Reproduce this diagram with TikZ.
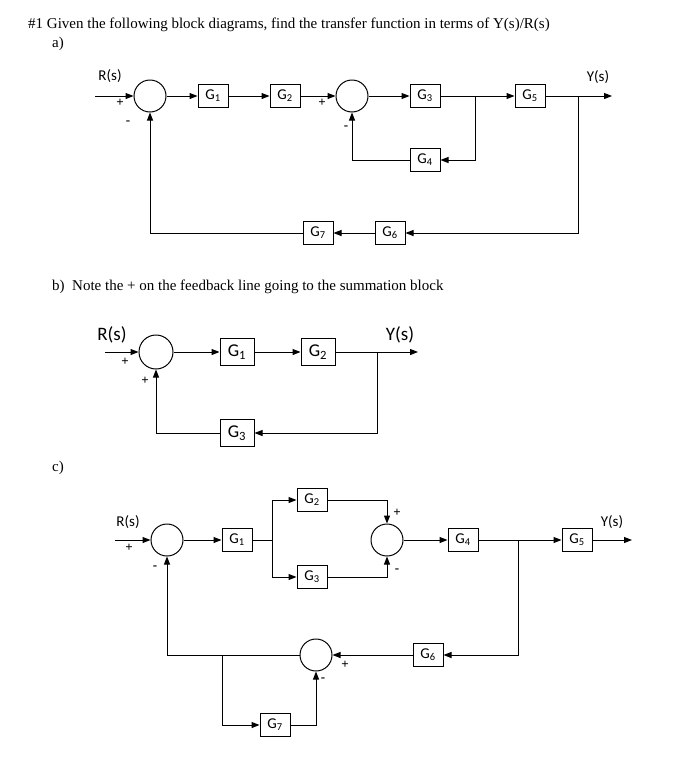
\documentclass[tikz,border=0pt]{standalone}
\usepackage{fontspec}
\setmainfont{Liberation Serif}
\newfontfamily\carl{Carlito}
\usetikzlibrary{arrows.meta}
\newcommand{\Gs}[1]{G\textsubscript{#1}}
\begin{document}
\begin{tikzpicture}[x=1pt,y=-1pt,
 blk/.style={draw,line width=1pt,minimum width=30pt,minimum height=23pt,inner sep=1pt,font=\carl\fontsize{15}{15}\selectfont},
 bblk/.style={blk,minimum width=34pt,minimum height=27pt,font=\carl\fontsize{18}{18}\selectfont},
 sm/.style={draw,circle,line width=1pt,minimum size=#1,inner sep=0pt},
 ln/.style={line width=1pt},
 ar/.style={ln,-{Triangle[length=8pt,width=6pt]}},
 lab/.style={font=\carl\fontsize{15}{15}\selectfont},
 blab/.style={font=\carl\fontsize{19}{19}\selectfont},
 sg/.style={font=\bfseries\fontsize{13}{13}\selectfont,inner sep=0pt},
 txt/.style={font=\fontsize{15}{15}\selectfont,anchor=west,inner sep=0pt}]
\useasboundingbox (0,0) rectangle (686,769);
\node[txt] (t) at (28,25) {\#1 Given the following block diagrams, find the transfer function in terms of Y(s)/R(s)};
\node[txt] (ta) at (52,44) {a)};
% a
\coordinate (ain) at (95,96);
\node[sm=32pt] (s1) at (150,96) {};
\node[blk] (g1) at (213,96) {\Gs{1}};
\node[blk] (g2) at (285,96) {\Gs{2}};
\node[sm=32pt] (s2) at (352,96) {};
\node[blk] (g3) at (425,96) {\Gs{3}};
\node[blk] (g5) at (530,96) {\Gs{5}};
\node[blk] (g4) at (425,160) {\Gs{4}};
\node[blk] (g6) at (390,233) {\Gs{6}};
\node[blk] (g7) at (318,233) {\Gs{7}};
\coordinate (aout) at (612,96);
\node[lab] (rs) at (110,76) {R(s)};
\node[lab] (ys) at (598,77) {Y(s)};
\node[sg] (p1) at (120,103) {+};
\node[sg] (m1) at (128,123) {-};
\node[sg] (p2) at (322,103) {+};
\node[sg] (m2) at (346,128) {-};
\draw[ar] (ain) -- (s1);
\draw[ar] (s1) -- (g1);
\draw[ar] (g1) -- (g2);
\draw[ar] (g2) -- (s2);
\draw[ar] (s2) -- (g3);
\draw[ar] (g3) -- (g5);
\draw[ar] (g5) -- (aout);
\draw[ar] (475,96) |- (g4);
\draw[ar] (g4) -| (s2);
\draw[ar] (578,96) |- (g6);
\draw[ar] (g6) -- (g7);
\draw[ar] (g7) -| (s1);
% b
\node[txt] (tb) at (52,287) {b)\ \ Note the + on the feedback line going to the summation block};
\coordinate (bin) at (105,352);
\node[sm=34pt] (bs) at (156,352) {};
\node[bblk] (bg1) at (237,352) {\Gs{1}};
\node[bblk] (bg2) at (318,352) {\Gs{2}};
\node[bblk] (bg3) at (237,433) {\Gs{3}};
\coordinate (bout) at (418,352);
\node[blab] (brs) at (112,335) {R(s)};
\node[blab] (bys) at (400,335) {Y(s)};
\node[sg] (bp1) at (125,362) {+};
\node[sg] (bp2) at (145,381) {+};
\draw[ar] (bin) -- (bs);
\draw[ar] (bs) -- (bg1);
\draw[ar] (bg1) -- (bg2);
\draw[ar] (bg2) -- (bout);
\draw[ar] (377,352) |- (bg3);
\draw[ar] (bg3) -| (bs);
% c
\node[txt] (tc) at (52,468) {c)};
\coordinate (cin) at (115,540);
\node[sm=32pt] (c1) at (167,540) {};
\node[blk] (cg1) at (237,540) {\Gs{1}};
\node[blk] (cg2) at (312,500) {\Gs{2}};
\node[blk] (cg3) at (312,577) {\Gs{3}};
\node[sm=32pt] (c2) at (387,540) {};
\node[blk] (cg4) at (463,540) {\Gs{4}};
\node[blk] (cg5) at (577,540) {\Gs{5}};
\node[blk] (cg6) at (428,655) {\Gs{6}};
\node[sm=32pt] (c3) at (316,655) {};
\node[blk] (cg7) at (275,725) {\Gs{7}};
\coordinate (cout) at (632,540);
\node[lab] (crs) at (128,522) {R(s)};
\node[lab] (cys) at (612,522) {Y(s)};
\node[sg] (cp1) at (129,548) {+};
\node[sg] (cm1) at (155,568) {-};
\node[sg] (cp2) at (397,513) {+};
\node[sg] (cm2) at (397,571) {-};
\node[sg] (cp3) at (345,665) {+};
\node[sg] (cm3) at (323,680) {-};
\draw[ar] (cin) -- (c1);
\draw[ar] (c1) -- (cg1);
\draw[ln] (cg1) -- (272,540);
\draw[ar] (272,540) |- (cg2);
\draw[ar] (272,540) |- (cg3);
\draw[ar] (cg2) -| (c2);
\draw[ar] (cg3) -| (c2);
\draw[ar] (c2) -- (cg4);
\draw[ar] (cg4) -- (cg5);
\draw[ar] (cg5) -- (cout);
\draw[ar] (518,540) |- (cg6);
\draw[ar] (cg6) -- (c3);
\draw[ar] (c3) -| (c1);
\draw[ar] (222,655) |- (cg7);
\draw[ar] (cg7) -| (c3);
\end{tikzpicture}
\end{document}
